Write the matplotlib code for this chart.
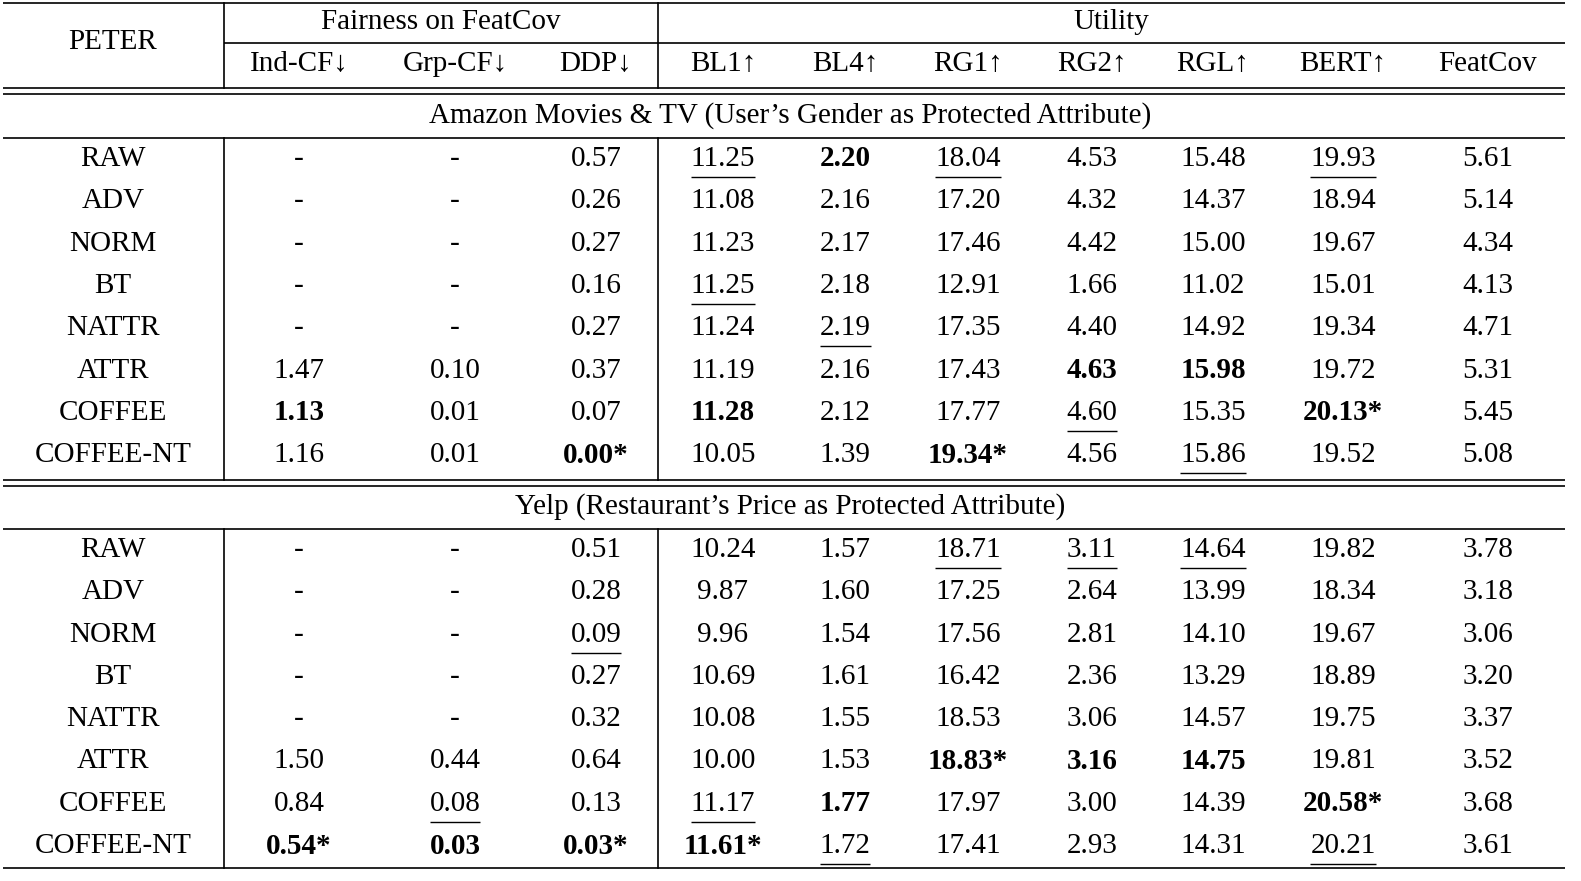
import matplotlib
matplotlib.use("Agg")
import matplotlib.pyplot as plt

plt.rcParams['font.family'] = ['Liberation Serif', 'DejaVu Serif']
FS = 21

# table contents; "**" = bold, "__" = underlined
metrics = ["Ind-CF\u2193", "Grp-CF\u2193", "DDP\u2193", "BL1\u2191", "BL4\u2191",
           "RG1\u2191", "RG2\u2191", "RGL\u2191", "BERT\u2191", "FeatCov"]
methods = ["RAW", "ADV", "NORM", "BT", "NATTR", "ATTR", "COFFEE", "COFFEE-NT"]

amazon_title = "Amazon Movies & TV (User\u2019s Gender as Protected Attribute)"
amazon = [
    ["-", "-", "0.57", "__11.25", "**2.20", "__18.04", "4.53", "15.48", "__19.93", "5.61"],
    ["-", "-", "0.26", "11.08", "2.16", "17.20", "4.32", "14.37", "18.94", "5.14"],
    ["-", "-", "0.27", "11.23", "2.17", "17.46", "4.42", "15.00", "19.67", "4.34"],
    ["-", "-", "0.16", "__11.25", "2.18", "12.91", "1.66", "11.02", "15.01", "4.13"],
    ["-", "-", "0.27", "11.24", "__2.19", "17.35", "4.40", "14.92", "19.34", "4.71"],
    ["1.47", "0.10", "0.37", "11.19", "2.16", "17.43", "**4.63", "**15.98", "19.72", "5.31"],
    ["**1.13", "0.01", "0.07", "**11.28", "2.12", "17.77", "__4.60", "15.35", "**20.13*", "5.45"],
    ["1.16", "0.01", "**0.00*", "10.05", "1.39", "**19.34*", "4.56", "__15.86", "19.52", "5.08"],
]
yelp_title = "Yelp (Restaurant\u2019s Price as Protected Attribute)"
yelp = [
    ["-", "-", "0.51", "10.24", "1.57", "__18.71", "__3.11", "__14.64", "19.82", "3.78"],
    ["-", "-", "0.28", "9.87", "1.60", "17.25", "2.64", "13.99", "18.34", "3.18"],
    ["-", "-", "__0.09", "9.96", "1.54", "17.56", "2.81", "14.10", "19.67", "3.06"],
    ["-", "-", "0.27", "10.69", "1.61", "16.42", "2.36", "13.29", "18.89", "3.20"],
    ["-", "-", "0.32", "10.08", "1.55", "18.53", "3.06", "14.57", "19.75", "3.37"],
    ["1.50", "0.44", "0.64", "10.00", "1.53", "**18.83*", "**3.16", "**14.75", "19.81", "3.52"],
    ["0.84", "__0.08", "0.13", "__11.17", "**1.77", "17.97", "3.00", "14.39", "**20.58*", "3.68"],
    ["**0.54*", "**0.03", "**0.03*", "**11.61*", "__1.72", "17.41", "2.93", "14.31", "__20.21", "3.61"],
]

fig = plt.figure(figsize=(15.81, 8.81), dpi=100)
ax = fig.add_axes([0, 0, 1, 1])
ax.set_xlim(0, 1581)
ax.set_ylim(881, 0)
ax.axis('off')

xname = 113
xcols = [299, 455, 596, 723, 845, 968, 1092, 1213, 1343, 1488]
L, R = 3, 1565
lw = 1.2

def hline(y, x0=L, x1=R, w=lw):
    ax.plot([x0, x1], [y, y], color='black', lw=w, solid_capstyle='butt')

def vlines(y0, y1):
    for x in (224, 658):
        ax.plot([x, x], [y0, y1], color='black', lw=lw)

underlines = []

def cell(x, y, s):
    weight = 'normal'
    ul = False
    if s.startswith("**"):
        s, weight = s[2:], 'bold'
    if s.startswith("__"):
        s, ul = s[2:], True
    t = ax.text(x, y, s, ha='center', va='center', fontsize=FS, fontweight=weight)
    if ul:
        underlines.append((t, y))

# header
hline(3)
cell(xname, 42, "PETER")
cell(441, 22, "Fairness on FeatCov")
cell(1111, 22, "Utility")
hline(43, 224, R)
for x, m in zip(xcols, metrics):
    cell(x, 64, m)
vlines(3, 88)
hline(88); hline(94)

def block(title, ty, rows, y0):
    cell(790, ty, title)
    hline(ty + 22)
    ys = [y0 + i * 42.3 for i in range(len(rows))]
    for y, name, row in zip(ys, methods, rows):
        cell(xname, y, name)
        for x, v in zip(xcols, row):
            cell(x, y, v)
    return ys[-1]

last = block(amazon_title, 116, amazon, 159)
vlines(138, 480)
hline(480); hline(486)
block(yelp_title, 507, yelp, 550)
vlines(529, 868)
hline(868)

fig.canvas.draw()
r = fig.canvas.get_renderer()
inv = ax.transData.inverted()
for t, y in underlines:
    bb = t.get_window_extent(r)
    (x0, _), (x1, _) = inv.transform([[bb.x0, bb.y0], [bb.x1, bb.y1]])
    hline(y + 18, x0, x1, 1.0)

plt.savefig('out.png', dpi=100)
